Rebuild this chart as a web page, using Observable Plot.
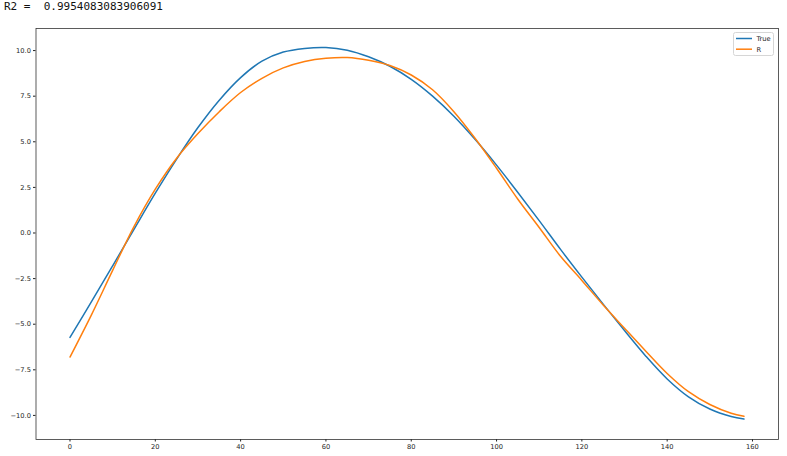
<!DOCTYPE html>
<html>
<head>
<meta charset="utf-8">
<script src="https://cdn.jsdelivr.net/npm/d3@7"></script>
<script src="https://cdn.jsdelivr.net/npm/@observablehq/plot@0.6"></script>
<style>
  html, body { margin: 0; padding: 0; background: white; }
  #title { height: 20px; font-family: "DejaVu Sans Mono", monospace; font-size: 11px; line-height: 14px; padding-left: 4px; color: #111; white-space: pre; }
  #wrap { position: relative; width: 787px; height: 436px; }
  #legend { position: absolute; left: 733px; top: 12px; }
</style>
</head>
<body>
<div id="title">R2 =  0.9954083083906091</div>
<div id="wrap">
  <svg id="legend" width="42" height="25"></svg>
</div>
<script>
const xs = [0, 5, 10, 15, 20, 25, 30, 35, 40, 45, 50, 55, 60, 65, 70, 75, 80, 85, 90, 95, 100, 105, 110, 115, 120, 125, 130, 135, 140, 145, 150, 155, 158];
const trueVals = [-5.72, -3.78, -1.8, 0.2, 2.18, 4.05, 5.78, 7.28, 8.52, 9.42, 9.92, 10.12, 10.17, 10.02, 9.66, 9.14, 8.42, 7.5, 6.4, 5.12, 3.72, 2.22, 0.68, -0.9, -2.42, -3.9, -5.35, -6.75, -8.0, -8.98, -9.65, -10.06, -10.2];
const rVals = [-6.8, -4.5, -2.05, 0.35, 2.4, 4.1, 5.45, 6.65, 7.7, 8.48, 9.05, 9.4, 9.58, 9.62, 9.47, 9.18, 8.66, 7.85, 6.65, 5.18, 3.55, 1.85, 0.3, -1.28, -2.6, -3.95, -5.22, -6.48, -7.7, -8.7, -9.4, -9.88, -10.05];
const xTicks = [0, 20, 40, 60, 80, 100, 120, 140, 160];
const yTicks = [-10, -7.5, -5, -2.5, 0, 2.5, 5, 7.5, 10];
const seriesNames = ["True", "R"];
const seriesColors = ["#1f77b4", "#ff7f0e"];

const data = xs.flatMap((x, i) => [
  {x, y: trueVals[i], s: seriesNames[0]},
  {x, y: rVals[i], s: seriesNames[1]}
]);

const fmtY = d => d.toFixed(1).replace("-", "\u2212");

const chart = Plot.plot({
  width: 787,
  height: 436,
  marginTop: 8,
  marginBottom: 17,
  marginLeft: 35.5,
  marginRight: 9,
  x: {domain: [-7.97, 166.1], label: null},
  y: {domain: [-11.32, 11.21], label: null},
  color: {domain: seriesNames, range: seriesColors},
  style: {fontFamily: "DejaVu Sans, sans-serif", fontSize: "6.7px", color: "#222", background: "white"},
  marks: [
    Plot.axisX({ticks: xTicks, tickSize: 2.5, tickPadding: 2, tickFormat: d => String(d), label: null}),
    Plot.axisY({ticks: yTicks, tickSize: 2.5, tickPadding: 2.5, tickFormat: fmtY, label: null}),
    Plot.line(data, {x: "x", y: "y", z: "s", stroke: "s", strokeWidth: 1.5, curve: "catmull-rom"}),
    Plot.frame({stroke: "#333", strokeWidth: 0.8})
  ]
});
document.getElementById("wrap").prepend(chart);

const lg = d3.select("#legend");
lg.append("rect").attr("x", 0.5).attr("y", 0.5).attr("width", 40).attr("height", 23).attr("rx", 2)
  .attr("fill", "white").attr("fill-opacity", 0.8).attr("stroke", "#d6d6d6").attr("stroke-width", 1);
seriesNames.forEach((name, i) => {
  const cy = 6.5 + i * 10.7;
  lg.append("line").attr("x1", 3).attr("x2", 19).attr("y1", cy).attr("y2", cy)
    .attr("stroke", seriesColors[i]).attr("stroke-width", 1.5);
  lg.append("text").attr("x", 23.5).attr("y", cy).attr("dy", "0.35em")
    .attr("font-family", "DejaVu Sans, sans-serif").attr("font-size", "6.7px").attr("fill", "#222").text(name);
});
</script>
</body>
</html>
